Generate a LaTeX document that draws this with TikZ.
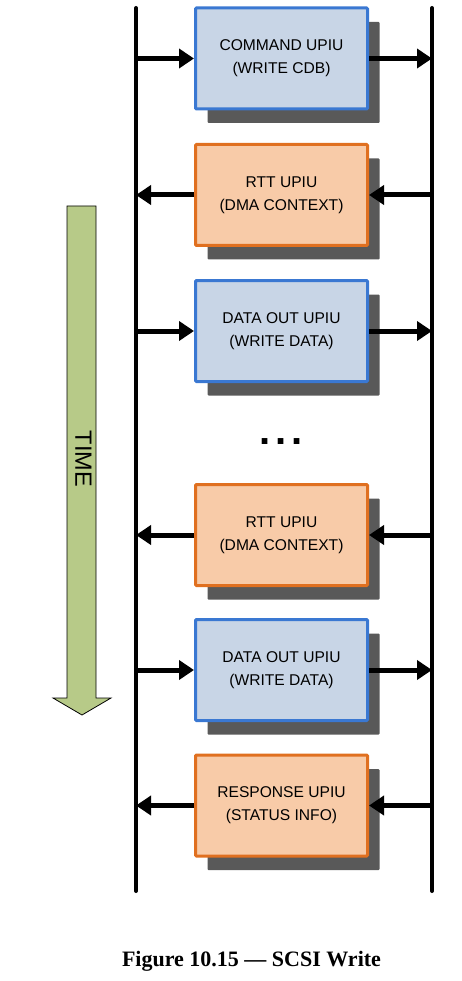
\documentclass[tikz,border=0pt]{standalone}
\usepackage{fontspec}
\setmainfont{Liberation Sans}
\newfontfamily\capfont{Liberation Serif}
\usetikzlibrary{arrows.meta,shadows}
\definecolor{bluefill}{RGB}{200,213,230}
\definecolor{blueedge}{RGB}{58,120,210}
\definecolor{orfill}{RGB}{248,203,168}
\definecolor{oredge}{RGB}{224,112,32}
\definecolor{shad}{RGB}{89,89,89}
\definecolor{timegreen}{RGB}{183,202,136}
\tikzset{
  upiu/.style={rectangle, rounded corners=1pt, line width=3pt,
    minimum width=172pt, minimum height=101pt, inner sep=0pt, align=center,
    font=\fontsize{15.6}{23}\selectfont,
    general shadow={shadow xshift=12pt, shadow yshift=-14pt, fill=shad}},
  bluebox/.style={upiu, draw=blueedge, fill=bluefill},
  orbox/.style={upiu, draw=oredge, fill=orfill},
  vline/.style={line width=4pt, line cap=round},
  flow/.style={line width=5pt, -{Triangle[length=15pt,width=19pt]}},
}
\begin{document}
\begin{tikzpicture}[x=1pt,y=-1pt]
\useasboundingbox (0,0) rectangle (462,981);
% lifelines
\coordinate (ltop) at (136,8);
\coordinate (lbot) at (136,891);
\coordinate (rtop) at (432,8);
\coordinate (rbot) at (432,891);
\draw[vline] (ltop) -- (lbot);
\draw[vline] (rtop) -- (rbot);
% time arrow
\draw[fill=timegreen, line width=0.8pt] (67,206) -- (96,206) -- (96,698) -- (111,698) -- (82,715) -- (53,698) -- (67,698) -- cycle;
\node[rotate=-90, font=\fontsize{23.5}{26}\selectfont] (time) at (83.5,459) {TIME};
% boxes
\node[bluebox] (b1) at (281.5,58.5) {COMMAND UPIU\\(WRITE CDB)};
\node[orbox]   (b2) at (281.5,195) {RTT UPIU\\(DMA CONTEXT)};
\node[bluebox] (b3) at (281.5,331) {DATA OUT UPIU\\(WRITE DATA)};
\node[orbox]   (b4) at (281.5,535) {RTT UPIU\\(DMA CONTEXT)};
\node[bluebox] (b5) at (281.5,670) {DATA OUT UPIU\\(WRITE DATA)};
\node[orbox]   (b6) at (281.5,805.5) {RESPONSE UPIU\\(STATUS INFO)};
% dots
\node[anchor=base, font=\fontsize{40}{40}\selectfont\bfseries] (dots) at (281,444) {.\hspace{4.9pt}.\hspace{4.9pt}.};
% arrows
\foreach \b in {b1,b3,b5}{
  \draw[flow] (\b.west -| ltop) -- (\b.west);
  \draw[flow] (\b.east) -- (\b.east -| rtop);
}
\foreach \b in {b2,b4,b6}{
  \draw[flow] (\b.east -| rtop) -- (\b.east);
  \draw[flow] (\b.west) -- (\b.west -| ltop);
}
% caption
\node[font=\capfont\bfseries\fontsize{22}{26}\selectfont] (cap) at (251.5,961) {Figure 10.15 — SCSI Write};
\end{tikzpicture}
\end{document}
